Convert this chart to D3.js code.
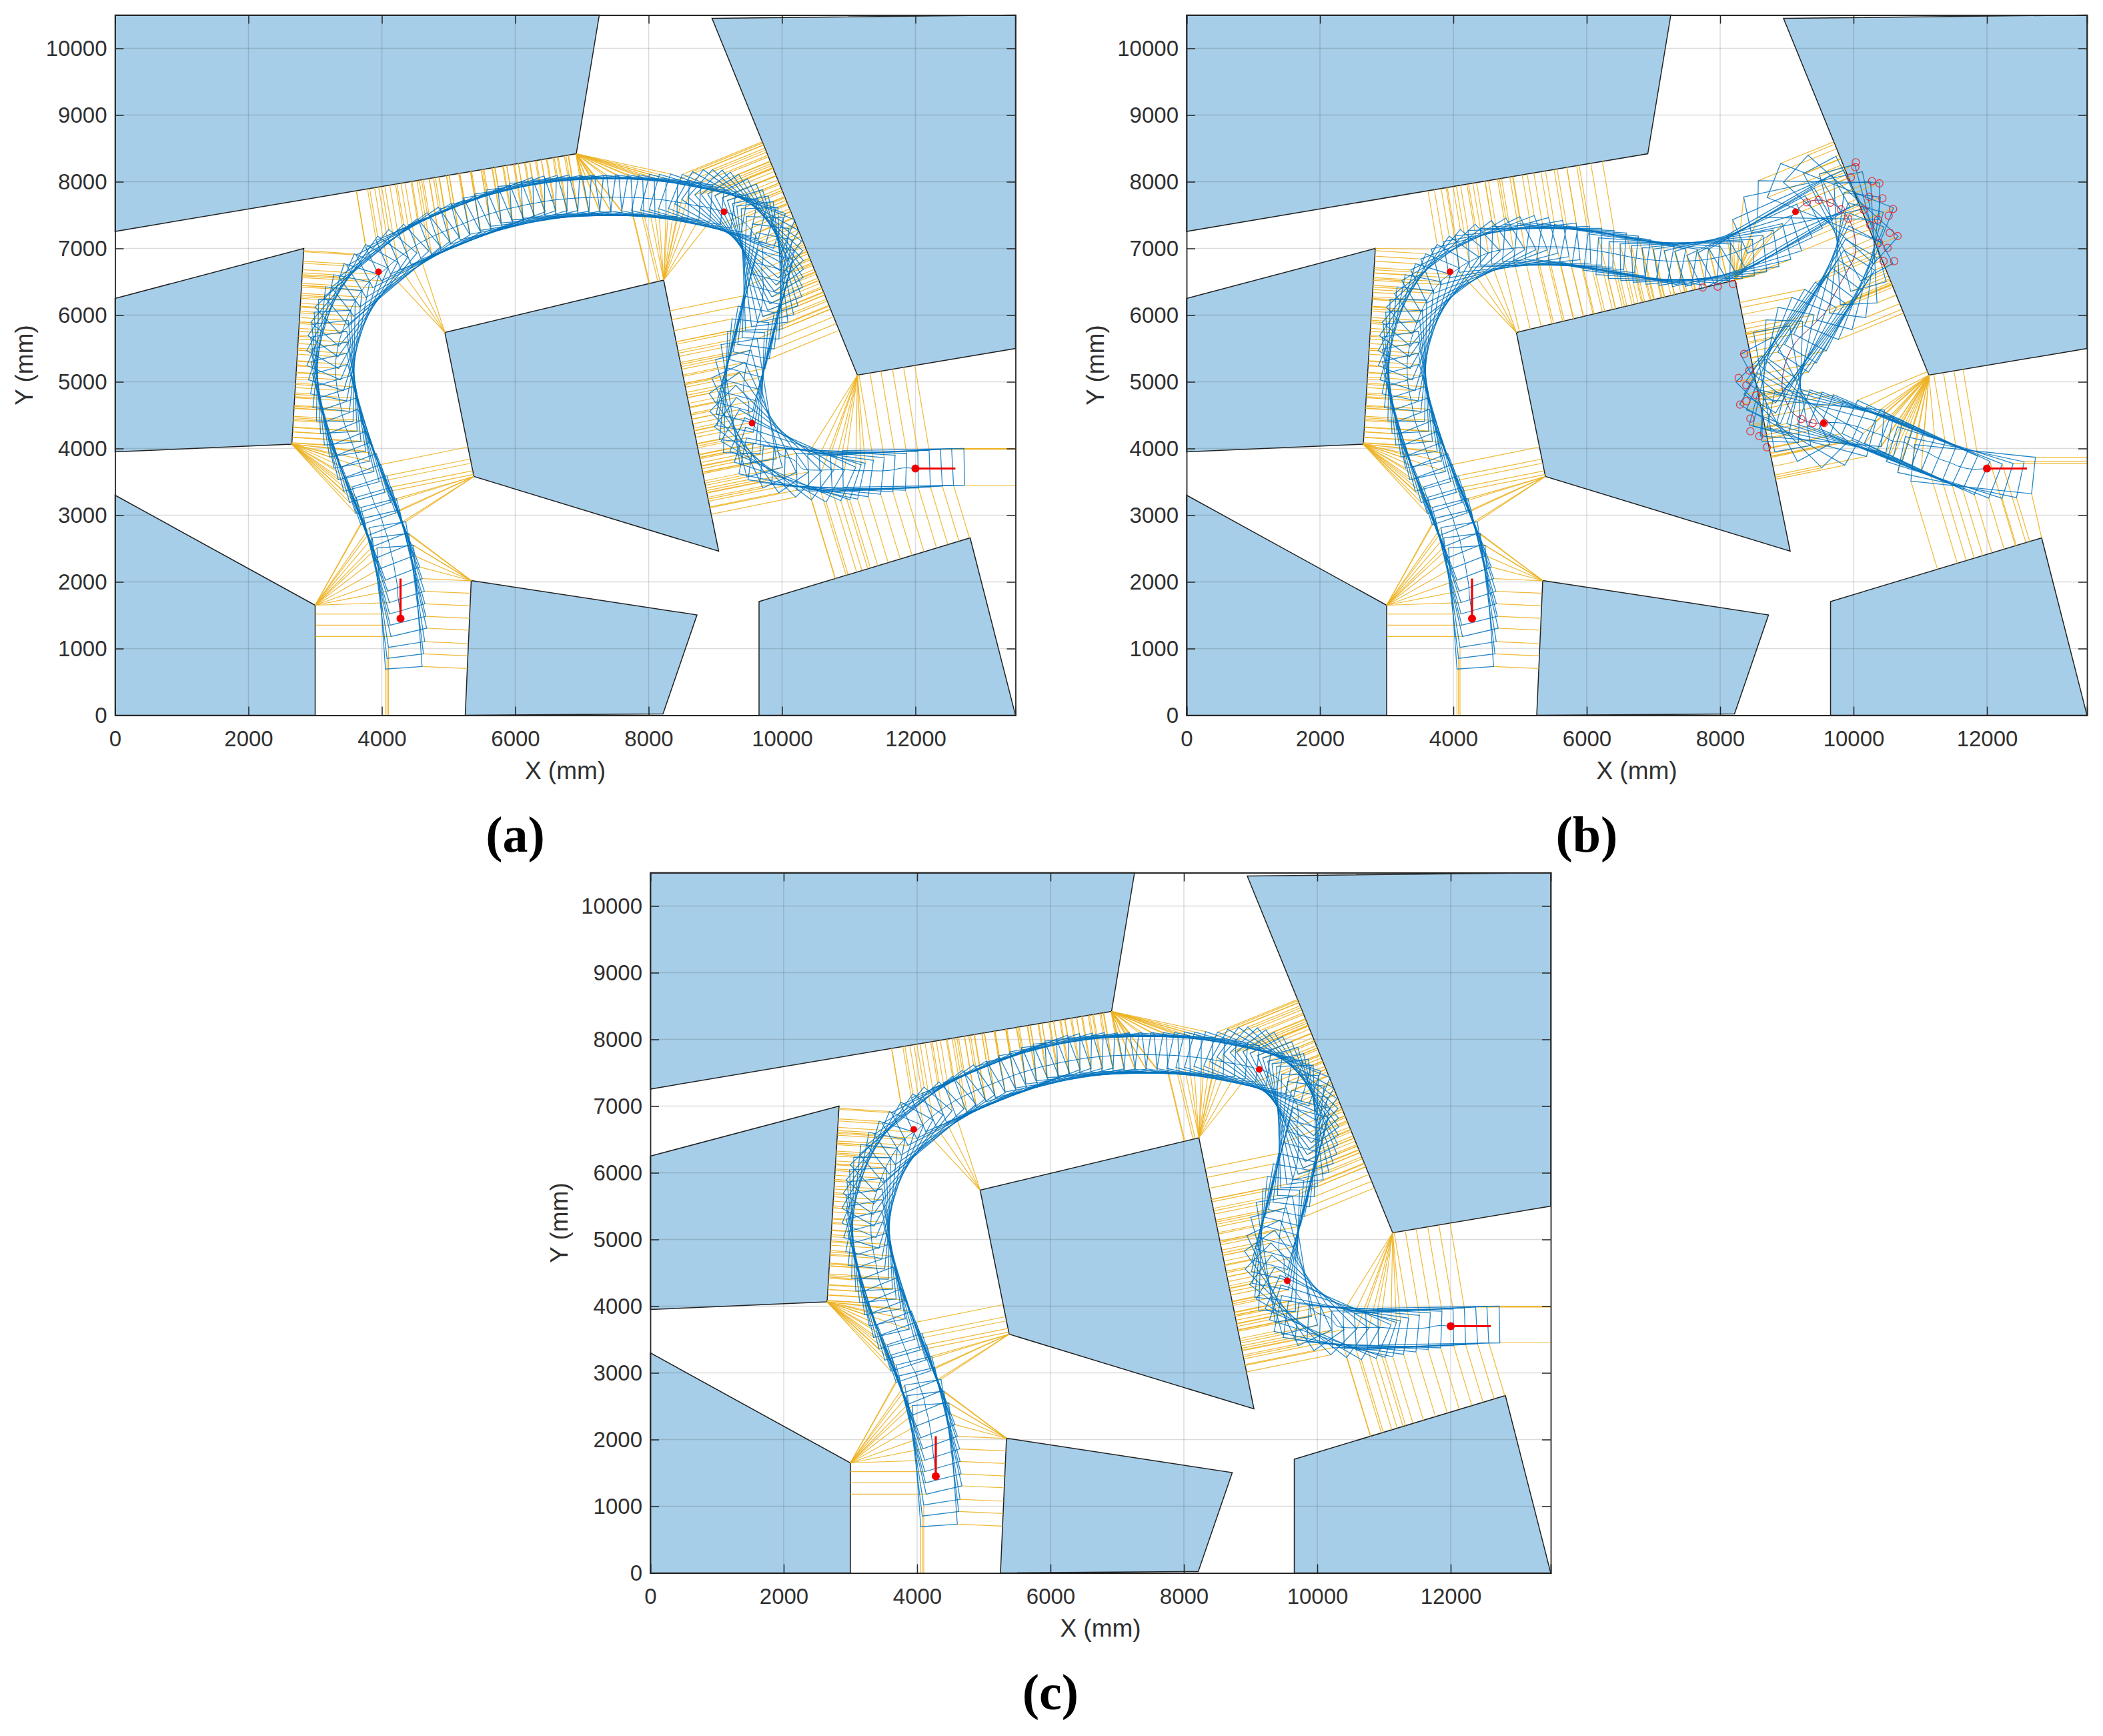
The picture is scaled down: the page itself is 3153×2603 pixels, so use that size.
<!DOCTYPE html>
<html lang="en">
<head>
    <title>Vehicle footprints and clearance</title>
    <meta charset="utf-8">
    <script src="https://d3js.org/d3.v7.min.js"></script>
    <style>
        body {margin: 0; background: #fff;}
        text {font-family: "Liberation Sans", Arial, sans-serif; fill: #303030;}
        .sub {font-family: "Liberation Serif", serif; font-weight: bold; font-size: 76px; fill: #000;}
    </style>
</head>
<body>
<div id="viz"></div>
<script>
    // obstacle outlines, mm
    const obstacleTopLeft = [[0, 10500], [7260, 10500], [6915, 8420], [0, 7255]];
    const obstacleTopRight = [[8950, 10450], [13500, 10500], [13500, 5500], [11130, 5100]];
    const obstacleLeft = [[0, 6250], [2830, 7000], [2650, 4065], [0, 3950]];
    const obstacleCentre = [[4945, 5740], [8225, 6525], [9050, 2460], [5380, 3580]];
    const obstacleLowLeft = [[0, 3300], [3000, 1650], [3000, 0], [0, 0]];
    const obstacleLowMid = [[5340, 2020], [8725, 1505], [8215, 20], [5250, 0]];
    const obstacleLowRight = [[9655, 1705], [12820, 2660], [13500, 0], [9655, 0]];
    const obstacles = [obstacleTopLeft, obstacleTopRight, obstacleLeft, obstacleCentre, obstacleLowLeft, obstacleLowMid, obstacleLowRight];

    // footprint centre (mm) and heading (deg) of every pose, panels a and c
    const poseAX = [4265,4240,4229,4200,4172,4130,4095,4035,3985,3900,3840,3775,3710,3650,3590,3530,3460,3410,3380,3345,3318,3308,3310,3335,3375,3430,3485,3555,3640,3730,3850,
        4010,4130,4260,4400,4550,4700,4860,5020,5180,5340,5500,5660,5830,5990,6160,6330,6500,6670,6840,7010,7180,7350,7520,7690,7860,8030,8200,8370,8540,8690,8830,8960,9100,9245,9320,9394,9450,9506,9555,9600,9650,9700,9710,9715,9705,9695,9710,9720,9710,9700,9665,9615,9570,9525,9485,9455,9430,9428,9499,9504,9579,9655,9755,9878,10011,10162,10235,10300,10430,10600,10770,10950,11130,11305,11480,11648,11822];
    const poseAY = [1620,1790,1960,2130,2300,2470,2640,2810,2975,3145,3310,3475,3640,3805,3975,4142,4310,4480,4650,4815,4985,5150,5320,5490,5660,5820,5975,6130,6280,6410,6540,
        6650,6760,6870,6970,7070,7150,7225,7290,7355,7420,7480,7530,7580,7615,7655,7685,7715,7735,7750,7760,7765,7770,7770,7765,7760,7745,7730,7705,7675,7645,7625,7595,7560,7514,7470,7424,7370,7312,7250,7190,7105,7018,6930,6839,6765,6693,6560,6430,6290,6150,6020,5840,5670,5500,5340,5190,5010,4839,4702,4524,4350,4238,4109,3997,3891,3839,3776,3700,3677,3677,3681,3682,3667,3668,3664,3677,3709];
    const poseAT = [94,97,99,103,104,106,108,110,111,111,112,112,111,109,108,106,105,103,101,99,96,93,89,84,79,73,67,61,55,50,43,
        40,38,35,31,27,25,23,23,22,21,21,19,16,14,11,9,7,5,3,2,1,0,-1,-2,-3,-4,-6,-8,-10,-12,-14,-16,-19,-22,-29,-36,-42,-48,-53,-58,-63,-68,-73,-78,-83,-88,-92,-97,-101,-104,-105,-105,-105,-105,-103,-100,-96,-92,-81,-75,-65,-55,-45,-37,-30,-24,-18,-12,-8,-5.6,-3.5,-2,1,2,3,3,1];

    // panel b takes the other way round the middle block
    const poseBX = [4265,4240,4229,4200,4172,4130,4095,4035,3985,3900,3840,3775,3710,3650,3590,3530,3460,3410,3380,3345,3318,3308,3310,3335,3375,3430,3485,3555,3640,3730,3850,
        4010,4150,4300,4460,4620,4790,4965,5140,5315,5490,5665,5840,6015,6190,6365,6540,6715,6890,7065,7240,7415,7590,7765,7940,8110,8270,8440,8600,8760,8900,9020,9130,9300,9477,9653,9810,9920,9988,10029,10020,9946,9860,9760,9660,9590,9470,9350,9230,9130,9050,8990,8950,8930,8930,8975,9075,9217,9387,9533,9650,9790,9950,10110,10270,10430,10589,10769,10918,11103,11281,11443,11610,11793];
    const poseBY = [1620,1790,1960,2130,2300,2470,2640,2810,2975,3145,3310,3475,3640,3805,3975,4142,4310,4480,4650,4815,4985,5150,5320,5490,5660,5820,5975,6130,6280,6410,6540,
        6650,6750,6830,6910,6960,6990,7010,7025,7025,7025,7020,7005,6985,6960,6930,6895,6860,6835,6820,6810,6810,6815,6830,6860,6900,6960,7030,7120,7210,7300,7410,7550,7692,7725,7685,7585,7448,7307,7078,6900,6733,6580,6400,6210,6060,5930,5810,5700,5590,5460,5320,5170,5010,4894,4740,4549,4442,4382,4382,4390,4385,4355,4310,4250,4197,4109,4090,4005,3943,3846,3790,3721,3690];
    const poseBT = [94,97,99,103,104,106,108,110,111,111,112,112,111,109,108,106,105,103,101,99,96,93,89,84,79,73,67,61,55,50,43,
        37,31,26,21,15,10,6,2,0,-2,-4,-6,-8,-9,-10,-11,-9,-7,-4,-1,1,3,6,9,13,17,25,28,30,31,30,24,12,-1,-21.5,-42,-62,-75,-87,-97,-105,-112,-117,-120,-123,-125,-127,-127,-125,-120,-112,-102,-92,-80,-62,-45,-30,-15,-5,-12,-15,-18,-20,-22,-23,-22,-25,-24,-25,-21.5,-17.6,-12,-6];

    // corners and centres flagged in panel b
    const flagX = [10033,10027,9960,10277,10387,10233,10433,10593,10153,10527,10366,10253,10543,10660,10383,10510,10450,10610,9300,9477,9653,9810,9920,8360,8437,8277,8393,8543,8393,8300,8453,8453,8587,8700,9217,9387,9560,7739,7963,8191];
    const flagY = [8292,8218,8065,8008,7975,7775,7752,7592,7582,7492,7432,7348,7235,7185,7085,7008,6808,6808,7692,7725,7685,7585,7448,5418,5168,5058,4948,4798,4708,4658,4448,4258,4185,4018,4442,4382,4382,6415,6426,6465];

    // waypoints and the two heading stubs
    const waypointX = [4280, 3950, 9130, 9550, 12000];
    const waypointY = [1450, 6650, 7550, 4380, 3700];
    const stubs = [[[4280, 1450], [4280, 2050]], [[12000, 3700], [12600, 3700]]];

    const xTicks = [0, 2000, 4000, 6000, 8000, 10000, 12000];
    const yTicks = [0, 1000, 2000, 3000, 4000, 5000, 6000, 7000, 8000, 9000, 10000];

    const xMax = 13500, yMax = 10500;
    const vehicleLength = 1820, vehicleWidth = 550;
    const bounds = [[0, 0], [xMax, 0], [xMax, yMax], [0, yMax]];

    const W = 1350, H = 1050;
    const x = d3.scaleLinear().domain([0, xMax]).range([0, W]);
    const y = d3.scaleLinear().domain([0, yMax]).range([H, 0]);

    const svg = d3.select('#viz').append('svg').attr('width', 3153).attr('height', 2603);

    function corners(cx, cy, deg) {
        const t = deg * Math.PI / 180;
        const hx = Math.cos(t) * vehicleLength / 2, hy = Math.sin(t) * vehicleLength / 2;
        const lx = -Math.sin(t) * vehicleWidth / 2, ly = Math.cos(t) * vehicleWidth / 2;
        return [[cx - hx + lx, cy - hy + ly], [cx + hx + lx, cy + hy + ly], [cx + hx - lx, cy + hy - ly], [cx - hx - lx, cy - hy - ly]];
    }

    function nearestOnSegment(p, a, b) {
        const dx = b[0] - a[0], dy = b[1] - a[1];
        let u = ((p[0] - a[0]) * dx + (p[1] - a[1]) * dy) / (dx * dx + dy * dy);
        u = Math.max(0, Math.min(1, u));
        return [a[0] + u * dx, a[1] + u * dy];
    }

    // closest point on any wall, this is what the clearance lines show
    function nearestWall(p) {
        let best = null, bestD = Infinity;
        obstacles.concat([bounds]).forEach(poly => {
            poly.forEach((a, i) => {
                const q = nearestOnSegment(p, a, poly[(i + 1) % poly.length]);
                const d = Math.hypot(q[0] - p[0], q[1] - p[1]);
                if (d < bestD) { bestD = d; best = q; }
            });
        });
        return best;
    }

    function drawPanel(ox, oy, poseX, poseY, poseT, opts) {
        const g = svg.append('g').attr('transform', `translate(${ox},${oy})`);
        const poses = poseX.map((px, i) => corners(px, poseY[i], poseT[i]));
        const line = d3.line().x(d => x(d[0])).y(d => y(d[1]));
        const smooth = d3.line().x(d => x(d[0])).y(d => y(d[1])).curve(d3.curveCatmullRom);

        g.append('g').selectAll('path').data(obstacles).join('path')
            .attr('d', d => line(d) + 'Z')
            .attr('fill', '#0072bd').attr('fill-opacity', 0.35)
            .attr('stroke', '#222').attr('stroke-width', 1.5);

        // grid over the patches, ticks inside the box
        const grid = g.append('g').attr('stroke', '#262626').attr('stroke-opacity', 0.16).attr('stroke-width', 1.5);
        xTicks.slice(1).forEach(t => grid.append('line').attr('x1', x(t)).attr('x2', x(t)).attr('y1', 0).attr('y2', H));
        yTicks.slice(1).forEach(t => grid.append('line').attr('y1', y(t)).attr('y2', y(t)).attr('x1', 0).attr('x2', W));

        const clearance = [];
        poses.forEach(c => c.forEach(p => clearance.push([p, nearestWall(p)])));
        g.append('g').attr('stroke', '#edb120').attr('stroke-width', 1.2).attr('stroke-opacity', 0.9)
            .selectAll('line').data(clearance).join('line')
            .attr('x1', d => x(d[0][0])).attr('y1', d => y(d[0][1]))
            .attr('x2', d => x(d[1][0])).attr('y2', d => y(d[1][1]));

        const centre = poseX.map((px, i) => [px, poseY[i]]);
        centre.unshift([waypointX[0], waypointY[0]]);
        centre.push([waypointX[4], waypointY[4]]);
        g.append('path').attr('d', smooth(centre))
            .attr('fill', 'none').attr('stroke', '#0072bd').attr('stroke-width', 1);
        if (opts.redPart) {
            g.append('path').attr('d', smooth(centre.slice(opts.redPart[0], opts.redPart[1])))
                .attr('fill', 'none').attr('stroke', '#e0202a').attr('stroke-width', 1).attr('stroke-opacity', 0.7);
        }

        g.append('g').attr('fill', 'none').attr('stroke', '#0072bd').attr('stroke-width', 1.3).attr('stroke-opacity', 0.85)
            .selectAll('path').data(poses).join('path').attr('d', d => line(d) + 'Z');

        if (opts.flags) {
            g.append('g').attr('fill', 'none').attr('stroke', '#ee1c25').attr('stroke-width', 1.3).attr('stroke-opacity', 0.85)
                .selectAll('circle').data(flagX).join('circle')
                .attr('cx', d => x(d)).attr('cy', (d, i) => y(flagY[i])).attr('r', 5.5);
        }

        g.append('g').attr('stroke', '#f00000').attr('stroke-width', 3.2).selectAll('path').data(stubs).join('path').attr('d', d => line(d));
        g.append('g').attr('fill', '#f00000').selectAll('circle').data(waypointX).join('circle')
            .attr('cx', d => x(d)).attr('cy', (d, i) => y(waypointY[i]))
            .attr('r', (d, i) => (i === 0 || i === 4) ? 6 : 5);

        // box and ticks
        g.append('g').attr('transform', `translate(0,${H})`)
            .call(d3.axisBottom(x).tickValues(xTicks).tickFormat(d3.format('d')).tickSize(-13).tickPadding(0))
            .call(a => a.selectAll('text').attr('y', 46).attr('dy', 0).style('font-size', '33px'));
        g.append('g')
            .call(d3.axisLeft(y).tickValues(yTicks).tickFormat(d3.format('d')).tickSize(-13).tickPadding(12))
            .call(a => a.selectAll('text').style('font-size', '33px'));
        g.append('g').attr('transform', 'translate(0,0)')
            .call(d3.axisBottom(x).tickValues(xTicks).tickFormat('').tickSize(13));
        g.append('g').attr('transform', `translate(${W},0)`)
            .call(d3.axisRight(y).tickValues(yTicks).tickFormat('').tickSize(-13));
        g.selectAll('.domain').attr('stroke', '#262626').attr('stroke-width', 1.8);
        g.selectAll('.tick line').attr('stroke', '#262626').attr('stroke-width', 1.5);

        g.append('text').attr('x', W / 2).attr('y', H + 95).attr('text-anchor', 'middle').style('font-size', '37px').text('X (mm)');
        g.append('text').attr('transform', `translate(-124,${H / 2}) rotate(-90)`).attr('text-anchor', 'middle').style('font-size', '37px').text('Y (mm)');
        g.append('text').attr('class', 'sub').attr('x', W / 2 - 75).attr('y', H + 204).attr('text-anchor', 'middle').text(opts.label);
    }

    drawPanel(172.5, 22.5, poseAX, poseAY, poseAT, {label: '(a)'});
    drawPanel(1779, 22.5, poseBX, poseBY, poseBT, {label: '(b)', flags: true, redPart: [63, 92]});
    drawPanel(975, 1308.5, poseAX, poseAY, poseAT, {label: '(c)'});
</script>
</body>
</html>
